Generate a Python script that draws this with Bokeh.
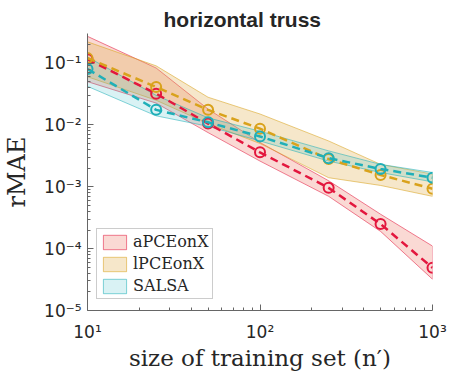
import numpy as np
from bokeh.plotting import figure
from bokeh.models import (FixedTicker, CustomJSTickFormatter, Legend, LegendItem, Range1d)
from bokeh.embed import file_html
from bokeh.resources import INLINE

# ---- data ----
n_train = [10, 25, 50, 100, 250, 500, 1000]

apce_med = [0.115, 0.032, 0.0105, 0.0036, 0.00096, 0.00025, 0.000049]
apce_lo = [0.05, 0.0225, 0.0075, 0.0026, 0.0007, 0.00019, 0.000032]
apce_hi = [0.27, 0.083, 0.018, 0.0052, 0.00125, 0.00036, 0.00011]

lpce_med = [0.12, 0.041, 0.0175, 0.0087, 0.0028, 0.00155, 0.00093]
lpce_lo = [0.06, 0.025, 0.0105, 0.005, 0.0014, 0.00105, 0.0007]
lpce_hi = [0.22, 0.09, 0.028, 0.015, 0.0055, 0.0023, 0.0016]

salsa_med = [0.08, 0.0175, 0.011, 0.0065, 0.0029, 0.00194, 0.0014]
salsa_lo = [0.042, 0.014, 0.0095, 0.0055, 0.0026, 0.0017, 0.0012]
salsa_hi = [0.125, 0.03, 0.013, 0.0079, 0.0038, 0.0023, 0.0017]

series_names = ["aPCEonX", "lPCEonX", "SALSA"]
x_major = [10, 100, 1000]
y_major = [1e-5, 1e-4, 1e-3, 1e-2, 1e-1]

# ---- styles ----
line_colors = ["#E3173E", "#D9A21B", "#1FAFB8"]
fill_colors = ["#F08070", "#E0B050", "#40C0C8"]
fill_alphas = [0.3, 0.3, 0.2]

p = figure(width=466, height=378, x_axis_type="log", y_axis_type="log",
           x_range=Range1d(10, 1000), y_range=Range1d(1e-5, 0.3),
           output_backend="svg", toolbar_location=None,
           min_border_left=82, min_border_right=34, min_border_top=33,
           min_border_bottom=68)

p.title.text = "horizontal truss"
p.title.text_font = "Liberation Sans"
p.title.text_font_style = "bold"
p.title.text_font_size = "21px"
p.title.text_color = "#262626"
p.title.align = "left"
p.title.offset = 76
p.title.standoff = 6

bands = [(apce_lo, apce_hi), (lpce_lo, lpce_hi), (salsa_lo, salsa_hi)]
meds = [apce_med, lpce_med, salsa_med]

patch_renderers = []
for (lo, hi), fc, fa, lc in zip(bands, fill_colors, fill_alphas, line_colors):
    xs = list(n_train) + list(n_train[::-1])
    ys = list(hi) + list(lo[::-1])
    r = p.patch(xs, ys, fill_color=fc, fill_alpha=fa, line_color=lc,
                line_alpha=0.55, line_width=1)
    patch_renderers.append(r)

for med, lc in zip(meds, line_colors):
    p.line(n_train, med, line_color=lc, line_width=2.5, line_dash="8 5")
    p.scatter(n_train, med, marker="circle", size=10, fill_alpha=0,
              line_color=lc, line_width=2)

# ---- axes ----
x_minor = [k * 10 ** e for e in (1, 2) for k in range(2, 10)]
y_minor = [k * 10.0 ** e for e in (-5, -4, -3, -2, -1) for k in range(2, 10)]
y_minor = [v for v in y_minor if v <= 0.3]

fmt = CustomJSTickFormatter(code="""
const sup = {"-":"\u207b","0":"\u2070","1":"\u00b9","2":"\u00b2","3":"\u00b3","4":"\u2074","5":"\u2075","6":"\u2076","7":"\u2077","8":"\u2078","9":"\u2079"};
const e = Math.round(Math.log10(tick));
return "10" + String(e).split("").map(c => sup[c]).join("");
""")

p.xaxis.ticker = FixedTicker(ticks=x_major, minor_ticks=x_minor)
p.yaxis.ticker = FixedTicker(ticks=y_major, minor_ticks=y_minor)
for ax in (p.xaxis, p.yaxis):
    ax.formatter = fmt
    ax.major_label_text_font = "DejaVu Sans"
    ax.major_label_text_font_size = "17px"
    ax.major_label_text_color = "#262626"
    ax.major_tick_in = 6
    ax.major_tick_out = 0
    ax.minor_tick_in = 3
    ax.minor_tick_out = 0
    ax.axis_line_color = "#666666"
    ax.major_tick_line_color = "#666666"
    ax.minor_tick_line_color = "#666666"
    ax.axis_label_text_font = "DejaVu Serif"
    ax.axis_label_text_font_style = "normal"
    ax.axis_label_text_color = "#262626"

p.xaxis.axis_label = "size of training set (n\u2032)"
p.xaxis.axis_label_text_font_size = "23px"
p.xaxis.major_label_standoff = 11
p.xaxis.axis_label_standoff = 0
p.yaxis.axis_label = "rMAE"
p.yaxis.axis_label_text_font_size = "24px"
p.yaxis.major_label_standoff = 6
p.yaxis.axis_label_standoff = 10

p.xgrid.visible = False
p.ygrid.visible = False
p.outline_line_color = None

legend = Legend(items=[LegendItem(label=n, renderers=[r])
                       for n, r in zip(series_names, patch_renderers)],
                location=(9, 11))
legend.label_text_font = "DejaVu Serif"
legend.label_text_font_size = "16px"
legend.label_text_color = "#262626"
legend.glyph_width = 29
legend.glyph_height = 18
legend.label_height = 18
legend.label_standoff = 4
legend.padding = 3
legend.spacing = 3
legend.margin = 0
legend.border_line_color = "#999999"
legend.border_line_width = 1
legend.background_fill_alpha = 1
p.add_layout(legend)

open("out.html", "w").write(file_html(p, INLINE))
